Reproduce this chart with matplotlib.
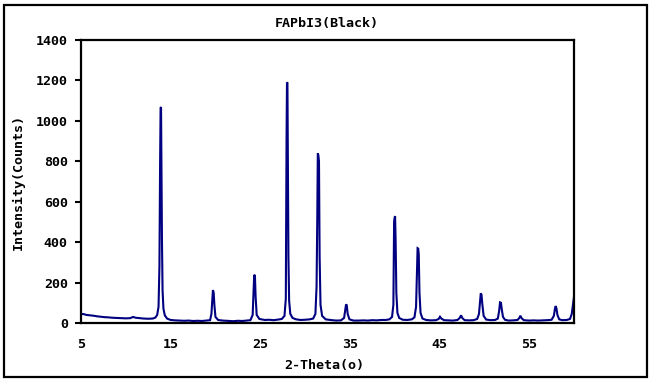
import matplotlib
matplotlib.use("Agg")
import matplotlib.pyplot as plt
from matplotlib.patches import Rectangle

# ---- data (2-theta in degrees, intensity in counts) ----
two_theta = [
    5.0, 5.3, 5.6, 6.0, 6.4, 6.8, 7.2, 7.6, 8.0, 8.5, 9.0, 9.5, 10.0, 10.5, 10.8, 11.1, 11.5,
    12.0, 12.5, 13.0, 13.3, 13.5, 13.65, 13.75, 13.82, 13.88, 13.93, 13.98, 14.03, 14.1, 14.2,
    14.35, 14.6, 15.0, 15.5, 16.0, 16.5, 17.0, 17.5, 18.0, 18.5, 19.0, 19.4, 19.55, 19.65,
    19.72, 19.8, 19.88, 20.0, 20.3, 20.8, 21.5, 22.0, 22.5, 23.0, 23.5, 23.9, 24.15, 24.25,
    24.32, 24.4, 24.48, 24.6, 24.9, 25.5, 26.0, 26.5, 27.0, 27.4, 27.7, 27.85, 27.93, 27.98,
    28.03, 28.08, 28.14, 28.22, 28.35, 28.6, 29.0, 29.5, 30.0, 30.5, 30.9, 31.15, 31.28,
    31.36, 31.42, 31.48, 31.55, 31.62, 31.72, 31.9, 32.3, 33.0, 33.5, 34.0, 34.35, 34.5,
    34.57, 34.65, 34.75, 34.95, 35.4, 36.0, 36.5, 37.0, 37.5, 38.0, 38.5, 39.0, 39.4, 39.7,
    39.85, 39.93, 39.98, 40.04, 40.1, 40.18, 40.3, 40.5, 40.9, 41.4, 41.9, 42.2, 42.38,
    42.48, 42.55, 42.62, 42.68, 42.76, 42.88, 43.1, 43.5, 44.0, 44.6, 44.9, 45.05, 45.2,
    45.5, 46.0, 46.5, 47.0, 47.25, 47.4, 47.55, 47.8, 48.3, 48.8, 49.2, 49.4, 49.52, 49.6,
    49.68, 49.78, 49.92, 50.2, 50.7, 51.2, 51.5, 51.65, 51.75, 51.85, 51.95, 52.08, 52.3,
    52.7, 53.2, 53.7, 53.9, 54.02, 54.15, 54.4, 55.0, 55.5, 56.0, 56.5, 57.0, 57.5, 57.75,
    57.88, 57.96, 58.05, 58.15, 58.35, 58.7, 59.2, 59.55, 59.75, 59.88, 60.0,
]
intensity = [
    45, 44, 40, 38, 36, 33, 31, 29, 28, 26, 25, 24, 23, 24, 30, 26, 24,
    22, 21, 22, 27, 40, 80, 280, 765, 1065, 1068, 737, 420, 160, 70,
    38, 22, 15, 13, 12, 11, 12, 10, 11, 10, 12, 14, 45, 110,
    163, 150, 90, 30, 15, 12, 10, 9, 11, 10, 12, 14, 40, 150,
    235, 238, 130, 40, 20, 15, 16, 14, 17, 20, 35, 120, 900, 1190,
    1188, 760, 330, 110, 45, 25, 18, 15, 16, 18, 22, 45, 180,
    520, 840, 830, 800, 330, 90, 35, 18, 14, 12, 13, 25, 70,
    92, 88, 45, 18, 12, 12, 13, 12, 14, 13, 15, 15, 18, 30,
    90, 500, 520, 529, 410, 150, 50, 25, 16, 15, 18, 28, 80,
    250, 370, 368, 340, 150, 50, 22, 15, 13, 14, 20, 31, 22,
    14, 13, 12, 15, 25, 38, 24, 14, 13, 14, 20, 45, 110, 147,
    140, 90, 35, 17, 14, 15, 22, 60, 102, 100, 65, 30, 16,
    12, 13, 15, 25, 36, 24, 14, 12, 13, 12, 13, 14, 16, 35,
    72, 84, 70, 40, 18, 14, 15, 20, 45, 90, 130,
]

x_ticks = [5, 15, 25, 35, 45, 55]
y_ticks = [0, 200, 400, 600, 800, 1000, 1200, 1400]

title_text = "FAPbI3(Black)"
x_label = "2-Theta(o)"
y_label = "Intensity(Counts)"

# ---- figure ----
W, H = 652, 382
fig = plt.figure(figsize=(W / 100, H / 100), dpi=100)
fig.patch.set_facecolor("white")

font = dict(family="DejaVu Sans Mono", weight="bold", size=9.6)

ax = fig.add_axes([81 / W, 1 - 323 / H, (574 - 81) / W, (323 - 40) / H])
ax.plot(two_theta, intensity, color="#000080", lw=1.5, solid_joinstyle="miter")
ax.set_xlim(5, 60)
ax.set_ylim(0, 1400)
ax.set_xticks(x_ticks)
ax.set_yticks(y_ticks)
ax.set_xticklabels([str(v) for v in x_ticks], fontdict=font)
ax.set_yticklabels([str(v) for v in y_ticks], fontdict=font)
ax.tick_params(axis="x", length=0, pad=11)
ax.tick_params(axis="y", length=4, width=1.5, direction="out", pad=5.5)
for sp in ax.spines.values():
    sp.set_linewidth(1.6)
    sp.set_color("black")

fig.text(327 / W, 1 - 23 / H, title_text, ha="center", va="center", **font)
fig.text(324 / W, 1 - 366 / H, x_label, ha="center", va="center", **font)
fig.text(18 / W, 1 - 182 / H, y_label, ha="center", va="center", rotation=90, **font)

# outer frame
fig.add_artist(Rectangle((4 / W, 1 - 377 / H), (647 - 4) / W, (377 - 5) / H,
                         transform=fig.transFigure, fill=False, lw=1.6, edgecolor="black"))

fig.savefig("out.png", dpi=100)
